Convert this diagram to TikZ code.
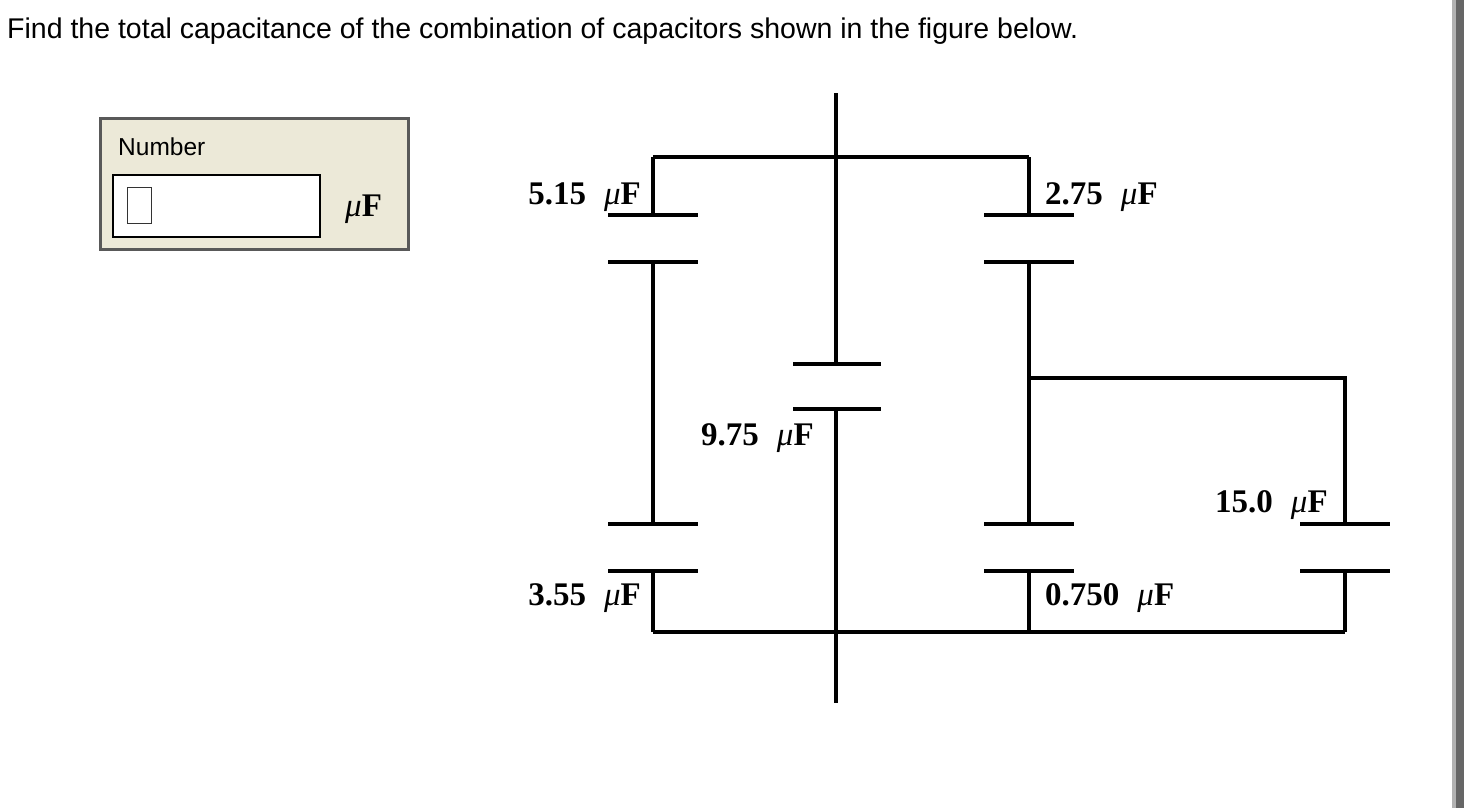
\documentclass[tikz,border=0pt]{standalone}
\usepackage{fontspec}
\setmainfont{Liberation Serif}
\newfontfamily\arialf{Liberation Sans}
\newcommand{\muF}{{\mdseries\itshape μ}F}
\begin{document}
\begin{tikzpicture}[x=1pt,y=-1pt,
  w/.style={line width=4pt},
  pl/.style={line width=4.5pt},
  lab/.style={font=\fontsize{33}{36}\selectfont\bfseries, inner sep=0pt}]
\useasboundingbox (0,0) rectangle (1464,808);
\fill[white] (0,0) rectangle (1464,808);
\fill[gray!60] (1452,0) rectangle (1464,808);
\fill[gray!80!black] (1456,0) rectangle (1464,808);
\node[anchor=base west, inner sep=0pt, font=\arialf\fontsize{28.5}{32}\selectfont] (title) at (7,39) {Find the total capacitance of the combination of capacitors shown in the figure below.};
% answer box
\draw[draw=gray!70!black, line width=3pt, fill={rgb,255:red,236;green,233;blue,216}] (100,118) rectangle (408,249);
\node[anchor=base west, inner sep=0pt, font=\arialf\fontsize{24.5}{28}\selectfont] (num) at (118,155) {Number};
\draw[line width=1.8pt, fill=white] (113,175) rectangle (320,237);
\draw[line width=0.8pt, draw=black!80] (127,187) rectangle (151,223);
\node[lab, anchor=base west] (unit) at (345,216) {\muF};
% circuit coordinates
\coordinate (ctop) at (836,93); \coordinate (cbot) at (836,703);
\coordinate (c1) at (836,364); \coordinate (c2) at (836,409);
\coordinate (tl) at (653,157); \coordinate (tr) at (1029,157);
\coordinate (bl) at (653,632); \coordinate (br) at (1345,632); \coordinate (brm) at (1029,632);
\coordinate (j) at (1029,378); \coordinate (jr) at (1345,378);
\draw[w] (ctop) -- (c1); \draw[w] (c2) -- (cbot);
\draw[pl] (793,364) -- (881,364); \draw[pl] (793,409) -- (881,409);
\draw[w] (tl) -- (tr);
\draw[w] (bl) -- (br);
% left branch
\draw[w] (tl) -- (653,215); \draw[pl] (608,215) -- (698,215); \draw[pl] (608,262) -- (698,262);
\draw[w] (653,262) -- (653,524); \draw[pl] (608,524) -- (698,524); \draw[pl] (608,571) -- (698,571);
\draw[w] (653,571) -- (bl);
% right branch
\draw[w] (tr) -- (1029,215); \draw[pl] (984,215) -- (1074,215); \draw[pl] (984,262) -- (1074,262);
\draw[w] (1029,262) -- (1029,524); \draw[pl] (984,524) -- (1074,524); \draw[pl] (984,571) -- (1074,571);
\draw[w] (1029,571) -- (brm);
\draw[w] (j) -- (jr) -- (1345,524); \draw[pl] (1300,524) -- (1390,524); \draw[pl] (1300,571) -- (1390,571);
\draw[w] (1345,571) -- (br);
% labels
\node[lab, anchor=base east] (l1) at (641,204) {5.15\hspace{18pt}\muF};
\node[lab, anchor=base west] (l2) at (1045,204) {2.75\hspace{18pt}\muF};
\node[lab, anchor=base west] (l3) at (701,445) {9.75\hspace{18pt}\muF};
\node[lab, anchor=base east] (l4) at (641,605) {3.55\hspace{18pt}\muF};
\node[lab, anchor=base west] (l5) at (1045,605) {0.750\hspace{18pt}\muF};
\node[lab, anchor=base west] (l6) at (1215,512) {15.0\hspace{18pt}\muF};
\end{tikzpicture}
\end{document}
